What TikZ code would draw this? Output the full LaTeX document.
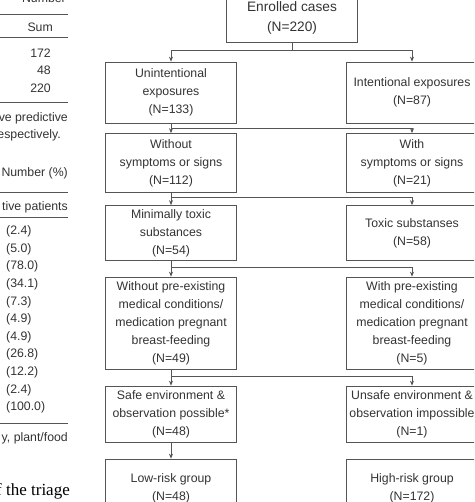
\documentclass[tikz,border=0pt]{standalone}
\usepackage{fontspec}
\setmainfont{Liberation Sans}
\newfontfamily\serifface{Liberation Serif}
\usetikzlibrary{arrows.meta,calc}
\definecolor{txt}{HTML}{333333}
\definecolor{ln}{HTML}{555555}
\tikzset{
  box/.style={draw=ln, line width=0.7pt, text=txt, align=center, inner sep=0pt,
    font=\fontsize{12.3}{18}\selectfont, minimum width=131pt},
  conn/.style={draw=ln, line width=0.7pt},
  arr/.style={conn, -{Stealth[length=5pt,width=4pt]}},
  tbl/.style={text=txt, inner sep=0pt, font=\fontsize{12.3}{15}\selectfont},
  rule/.style={draw=ln, line width=0.6pt}
}
\begin{document}
\begin{tikzpicture}[x=1pt,y=-1pt]
\useasboundingbox (0,0) rectangle (474,502);
\clip (0,0) rectangle (474,502);
% ---------- flow chart ----------
\node[box, font=\fontsize{13.7}{20}\selectfont, minimum height=48pt] (enr) at (292,18) {Enrolled cases\\(N=220)};
\node[box, minimum height=61pt] (u1) at (171,92.5) {Unintentional\\exposures\\(N=133)};
\node[box, minimum height=61pt] (i1) at (412,92.5) {Intentional exposures\\(N=87)};
\node[box, minimum height=59pt] (u2) at (171,163) {Without\\symptoms or signs\\(N=112)};
\node[box, minimum height=59pt] (i2) at (412,163) {With\\symptoms or signs\\(N=21)};
\node[box, minimum height=55pt] (u3) at (171,233) {Minimally toxic\\substances\\(N=54)};
\node[box, minimum height=55pt] (i3) at (412,233) {Toxic substanses\\(N=58)};
\node[box, minimum height=92pt] (u4) at (171,323) {Without pre-existing\\medical conditions/\\medication pregnant\\breast-feeding\\(N=49)};
\node[box, minimum height=92pt] (i4) at (412,323) {With pre-existing\\medical conditions/\\medication pregnant\\breast-feeding\\(N=5)};
\node[box, minimum height=56pt] (u5) at (171,414) {Safe environment \&\\observation possible*\\(N=48)};
\node[box, minimum height=56pt] (i5) at (412,414) {Unsafe environment \&\\observation impossible\\(N=1)};
\node[box, minimum height=58pt] (u6) at (171,488) {Low-risk group\\(N=48)};
\node[box, minimum height=58pt] (i6) at (412,488) {High-risk group\\(N=172)};
% connectors
\draw[conn] (enr.south) -- ++(0,8) coordinate (j0);
\draw[arr] (j0) -| (u1.north);
\draw[arr] (j0) -| (i1.north);
\draw[conn] (u1.south) -- ++(0,5) coordinate (j1);
\draw[arr] (j1) -| (u2.north);
\draw[arr] (j1) -| (i2.north);
\draw[conn] (u2.south) -- ++(0,5) coordinate (j2);
\draw[arr] (j2) -| (u3.north);
\draw[arr] (j2) -| (i3.north);
\draw[conn] (u3.south) -- ++(0,6) coordinate (j3);
\draw[arr] (j3) -| (u4.north);
\draw[arr] (j3) -| (i4.north);
\draw[conn] (u4.south) -- ++(0,7) coordinate (j4);
\draw[arr] (j4) -| (u5.north);
\draw[arr] (j4) -| (i5.north);
\draw[arr] (u5.south) -- (u6.north);
% ---------- cropped table on the left ----------
\node[tbl, anchor=east] (t0) at (66,-2) {Number};
\draw[rule] (0,14) -- (68,14);
\node[tbl, anchor=east] (t1) at (53,27) {Sum};
\draw[rule] (0,37) -- (68,37);
\node[tbl, anchor=east] (t2) at (51,53) {172};
\node[tbl, anchor=east] (t3) at (51,70.5) {48};
\node[tbl, anchor=east] (t4) at (51,88) {220};
\draw[rule] (0,102) -- (68,102);
\node[tbl, anchor=east] (t5) at (68,118) {ve predictive};
\node[tbl, anchor=east] (t6) at (61,135) {espectively.};
\node[tbl, anchor=east] (t7) at (68,173) {Number (\%)};
\draw[rule] (0,192) -- (68,192);
\node[tbl, anchor=east] (t8) at (68,207) {tive patients};
\draw[rule] (0,217) -- (68,217);
\foreach \v [count=\k from 0] in {(2.4),(5.0),(78.0),(34.1),(7.3),(4.9),(4.9),(26.8),(12.2),(2.4),(100.0)}
  \node[tbl, anchor=west] (p\k) at (6,231.5+17.6*\k) {\v};
\draw[rule] (0,423) -- (68,423);
\node[tbl, anchor=east] (t9) at (68,438) {y, plant/food};
\node[text=black, inner sep=0pt, anchor=west, font=\serifface\fontsize{17}{20}\selectfont] (t10) at (-4,491) {f the triage};
\end{tikzpicture}
\end{document}
